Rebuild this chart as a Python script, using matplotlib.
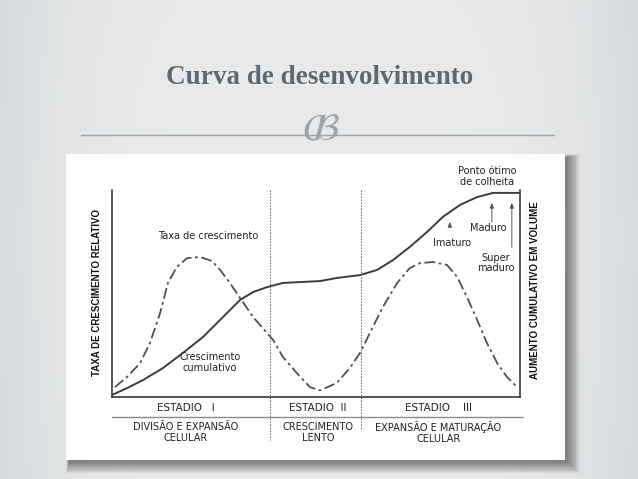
import numpy as np
import matplotlib
matplotlib.use("Agg")
from matplotlib import pyplot as plt
from matplotlib.patches import Rectangle

# curve values (x: 0..100 across stages, y: 0..100)
cum_x = [0, 3.7, 7.6, 12.5, 17.4, 22.3, 27.2, 31.4, 34.6, 38.0, 41.9, 46.8, 51.0, 55.1, 60.8,
         65.0, 68.9, 73.0, 77.2, 81.1, 85.3, 89.5, 93.4, 99.3, 100]
cum_y = [1.0, 4.3, 8.2, 14.0, 21.3, 29.0, 38.6, 46.9, 50.7, 53.1, 55.1, 55.6, 56.0, 57.5, 58.9,
         61.4, 66.2, 72.5, 79.7, 87.0, 92.8, 96.6, 98.6, 98.6, 98.6]

rate_x = [0.7, 3.7, 6.9, 9.3, 11.8, 13.7, 15.9, 18.4, 21.6, 24.5, 26.5, 28.9, 31.4, 34.6, 38.0,
          39.5, 41.9, 45.3, 48.5, 51.0, 55.1, 58.3, 60.8, 63.2, 66.4, 69.9, 73.0, 75.5, 78.7,
          82.1, 84.6, 87.0, 89.5, 91.9, 94.4, 96.8, 99.3]
rate_y = [4.8, 9.7, 16.4, 26.1, 40.6, 55.1, 62.8, 67.1, 67.6, 65.7, 61.4, 55.1, 47.8, 38.6, 30.9,
          27.5, 19.3, 11.6, 4.8, 3.2, 6.8, 14.0, 21.3, 30.9, 43.5, 55.1, 62.3, 64.7, 65.2,
          63.8, 58.0, 48.3, 37.2, 26.1, 16.4, 9.7, 4.8]

stage_bounds = [38.7, 61]
stage_names = ["ESTADIO   I", "ESTADIO  II", "ESTADIO    III"]
stage_desc = ["DIVISÃO E EXPANSÃO\nCELULAR", "CRESCIMENTO\nLENTO", "EXPANSÃO E MATURAÇÃO\nCELULAR"]
stage_x = [18.0, 50.5, 80.0]

W, H = 638, 479
fig = plt.figure(figsize=(W / 100, H / 100), dpi=100)

# slide background
bg = fig.add_axes([0, 0, 1, 1], zorder=0)
bg.set_xlim(0, W)
bg.set_ylim(H, 0)
bg.axis("off")
xx = np.linspace(-1, 1, 200)
yy = np.linspace(-1, 1, 150)
gx, gy = np.meshgrid(xx, yy)
d = np.clip(gx ** 4 * 0.9 + gy ** 2 * 0.1, 0, 1)
c0 = np.array([234, 234, 234]) / 255
c1 = np.array([214, 219, 222]) / 255
img = c0[None, None, :] * (1 - d[..., None]) + c1[None, None, :] * d[..., None]
bg.imshow(img, extent=[0, W, H, 0], aspect="auto", zorder=0)

bg.text(321, 78, "Curva de desenvolvimento", ha="center", va="center", fontsize=19.5,
        family="Liberation Serif", weight="bold", color="#f4f4f4", zorder=2)
bg.text(320, 77, "Curva de desenvolvimento", ha="center", va="center", fontsize=19.5,
        family="Liberation Serif", weight="bold", color="#5d6972", zorder=3)
bg.plot([81, 554], [134.5, 134.5], color="#9aa6ad", lw=1, zorder=2)
bg.text(321, 130, r"$\mathcal{C}\!\!\mathcal{B}$", ha="center", va="center", fontsize=27,
        color="#9aa6ad", zorder=3)

# picture card with shadow
for k in range(10):
    bg.add_patch(Rectangle((66 + 3 - k * 0.3, 154 + 3 - k * 0.3), 499 + k * 1.6, 306 + k * 1.4,
                           facecolor="black", alpha=0.05, lw=0, zorder=3))
bg.add_patch(Rectangle((66, 154), 499, 306, facecolor="white", lw=0, zorder=4))

# diagram
ax = fig.add_axes([112 / W, 1 - 397 / H, (520 - 112) / W, (397 - 190) / H], zorder=5)
ax.set_facecolor("none")
ax.set_xlim(0, 100)
ax.set_ylim(0, 100)
ax.set_xticks([])
ax.set_yticks([])
ax.spines["top"].set_visible(False)
for s in ["left", "bottom", "right"]:
    ax.spines[s].set_color("#3a3a3a")
    ax.spines[s].set_linewidth(1.2)

ax.plot(cum_x, cum_y, color="#3c3c3c", lw=1.4, solid_capstyle="round", solid_joinstyle="round")
ax.plot(rate_x, rate_y, color="#505050", lw=1.3, dashes=(6, 2, 1.5, 2))

for xb, ylo in zip(stage_bounds, [-21, -16]):
    ax.plot([xb, xb], [100, ylo], color="#777777", lw=0.8, dashes=(1.5, 1.2), clip_on=False)
ax.plot([0, 100.7], [-9.7, -9.7], color="#8a8a8a", lw=1, clip_on=False)

txt = dict(ha="center", va="center", fontsize=7, color="#222222", clip_on=False)
for x, n, dsc in zip(stage_x, stage_names, stage_desc):
    ax.text(x, -5.3, n, fontsize=7.5, ha="center", va="center", color="#222222")
    ax.text(x, -17, dsc, linespacing=1.1, **txt)

ax.text(23.5, 77.8, "Taxa de crescimento", **txt)
ax.text(24, 16.7, "Crescimento\ncumulativo", linespacing=1.1, **txt)
ax.text(92, 106.5, "Ponto ótimo\nde colheita", linespacing=1.05, **txt)
ax.text(83.3, 74.4, "Imaturo", **txt)
ax.text(92.2, 81.6, "Maduro", **txt)
ax.text(94, 64.7, "Super\nmaduro", linespacing=1.05, **txt)

arr = dict(arrowstyle="-|>,head_length=0.3,head_width=0.12", color="#555555", lw=0.7)
ax.annotate("", xy=(82.8, 86), xytext=(82.8, 80.7), arrowprops=arr)
ax.annotate("", xy=(93.1, 95.2), xytext=(93.1, 83.1), arrowprops=arr)
ax.annotate("", xy=(98, 95.2), xytext=(98, 71), arrowprops=arr)

lab = dict(rotation=90, ha="center", va="center", fontsize=7, weight="bold",
           family=["Liberation Sans Narrow", "Liberation Sans"], color="#111111", clip_on=False)
ax.text(-3.7, 50.7, "TAXA DE CRESCIMENTO RELATIVO", **lab)
ax.text(103.7, 51.7, "AUMENTO CUMULATIVO EM VOLUME", **lab)

fig.savefig("out.png", dpi=100)
